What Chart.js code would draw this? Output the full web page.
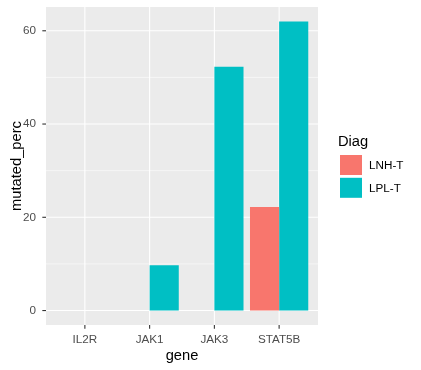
<!DOCTYPE html>
<html>

<head>
    <title>mutated_perc by gene</title>
    <script src="https://cdn.jsdelivr.net/npm/chart.js"></script>
    <style>
        html, body { margin: 0; padding: 0; background: #fff; }
        #wrap { width: 421px; height: 370px; }
    </style>
</head>

<body>
    <div id="wrap"><canvas id="chart" width="421" height="370"></canvas></div>

    <script>
        // Data
        const genes = ['IL2R', 'JAK1', 'JAK3', 'STAT5B'];
        const lnhT = [0, 0, 0, 22.2];
        const lplT = [0, 9.7, 52.3, 62];
        const yTicks = [0, 20, 40, 60];
        const yMinor = [10, 30, 50];
        const diagLabels = ['LNH-T', 'LPL-T'];
        const diagColors = ['#F8766D', '#00BFC4'];

        const FONT = '"Liberation Sans", Arial, sans-serif';

        // ggplot-like panel: grey background, white grid, extra 0.1 category on each side
        const panelPlugin = {
            id: 'panel',
            beforeDatasetsDraw(chart) {
                const ctx = chart.ctx;
                const area = chart.chartArea;
                const x = chart.scales.x, y = chart.scales.y;
                const step = area.width / genes.length;
                const left = area.left - 0.1 * step;
                const right = area.right + 0.1 * step;

                ctx.save();
                ctx.fillStyle = '#EBEBEB';
                ctx.fillRect(left, area.top, right - left, area.bottom - area.top);

                ctx.strokeStyle = '#FFFFFF';
                // minor grid
                ctx.lineWidth = 0.55;
                yMinor.forEach(v => {
                    const py = y.getPixelForValue(v);
                    ctx.beginPath(); ctx.moveTo(left, py); ctx.lineTo(right, py); ctx.stroke();
                });
                // major grid
                ctx.lineWidth = 1.1;
                yTicks.forEach(v => {
                    const py = y.getPixelForValue(v);
                    ctx.beginPath(); ctx.moveTo(left, py); ctx.lineTo(right, py); ctx.stroke();
                });
                genes.forEach((g, i) => {
                    const px = x.getPixelForValue(i);
                    ctx.beginPath(); ctx.moveTo(px, area.top); ctx.lineTo(px, area.bottom); ctx.stroke();
                });

                // axis tick marks
                ctx.strokeStyle = '#333333';
                ctx.lineWidth = 1.1;
                yTicks.forEach(v => {
                    const py = y.getPixelForValue(v);
                    ctx.beginPath(); ctx.moveTo(left - 3.7, py); ctx.lineTo(left, py); ctx.stroke();
                });
                genes.forEach((g, i) => {
                    const px = x.getPixelForValue(i);
                    ctx.beginPath(); ctx.moveTo(px, area.bottom); ctx.lineTo(px, area.bottom + 3.7); ctx.stroke();
                });
                ctx.restore();
            },
            afterDraw(chart) {
                // legend drawn ggplot style on the right
                const ctx = chart.ctx;
                ctx.save();
                ctx.fillStyle = '#000';
                ctx.font = '14.7px ' + FONT;
                ctx.textBaseline = 'middle';
                ctx.textAlign = 'left';
                ctx.fillText('Diag', 338, 142);
                ctx.font = '11.7px ' + FONT;
                diagLabels.forEach((lab, i) => {
                    const top = 155 + i * 22.8;
                    ctx.fillStyle = diagColors[i];
                    ctx.fillRect(340, top, 22, 20);
                    ctx.fillStyle = '#000';
                    ctx.fillText(lab, 369, top + 10.5);
                });
                ctx.restore();
            }
        };

        const ctx = document.getElementById('chart').getContext('2d');
        const chart = new Chart(ctx, {
            type: 'bar',
            data: {
                labels: genes,
                datasets: [{
                    label: diagLabels[0],
                    data: lnhT,
                    backgroundColor: diagColors[0],
                    borderWidth: 0,
                    categoryPercentage: 0.9,
                    barPercentage: 1.0
                }, {
                    label: diagLabels[1],
                    data: lplT,
                    backgroundColor: diagColors[1],
                    borderWidth: 0,
                    categoryPercentage: 0.9,
                    barPercentage: 1.0
                }]
            },
            options: {
                responsive: false,
                animation: false,
                layout: { padding: { top: 7, right: 109.5, bottom: 0, left: 0 } },
                plugins: {
                    legend: { display: false },
                    tooltip: { enabled: false }
                },
                scales: {
                    x: {
                        type: 'category',
                        offset: true,
                        grid: { display: false, drawTicks: false },
                        border: { display: false },
                        ticks: {
                            color: '#4D4D4D',
                            font: { family: FONT, size: 11.7 },
                            padding: 8,
                            maxRotation: 0
                        },
                        title: {
                            display: true,
                            text: 'gene',
                            color: '#000',
                            font: { family: FONT, size: 14.7 },
                            padding: { top: 0, bottom: 5 }
                        },
                        afterFit(scale) {
                            scale.height = 45;
                            scale.paddingLeft = 0;
                            scale.paddingRight = 0;
                        }
                    },
                    y: {
                        min: -3.1,
                        max: 65.1,
                        grid: { display: false, drawTicks: false },
                        border: { display: false },
                        afterBuildTicks(scale) {
                            scale.ticks = yTicks.map(v => ({ value: v }));
                        },
                        ticks: {
                            color: '#4D4D4D',
                            font: { family: FONT, size: 11.7 },
                            padding: 16.5
                        },
                        title: {
                            display: true,
                            text: 'mutated_perc',
                            color: '#000',
                            font: { family: FONT, size: 14.7 },
                            padding: { top: 8, bottom: 0 }
                        },
                        afterFit(scale) {
                            scale.width = 52.5;
                            scale.paddingTop = 0;
                            scale.paddingBottom = 0;
                        }
                    }
                }
            },
            plugins: [panelPlugin]
        });
    </script>
</body>

</html>
